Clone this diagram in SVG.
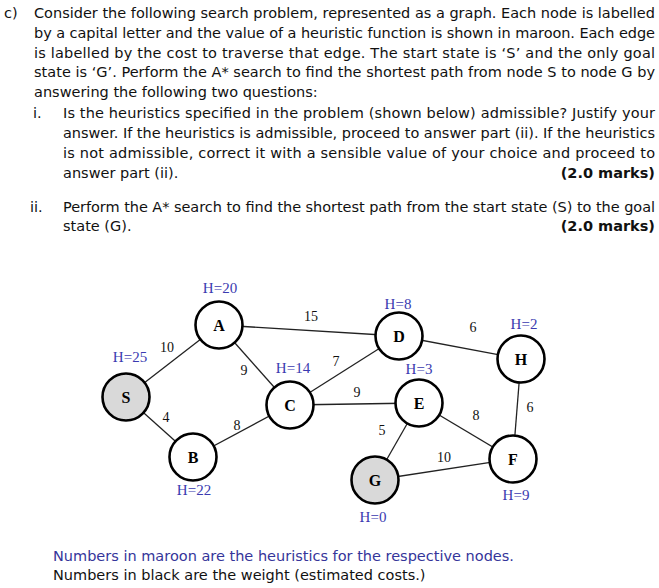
<svg xmlns="http://www.w3.org/2000/svg" width="659" height="588" viewBox="0 0 659 588">
<style>
.t{font-family:"DejaVu Sans",Verdana,sans-serif;font-size:14.5px;fill:#111}
.b{font-weight:bold}
.blue{fill:#35359a}
.e{stroke:#222;stroke-width:1.3;fill:none}
.n{stroke:#000;stroke-width:2.6;fill:#fff}
.g{fill:#d9d9d9}
.nl{font-family:"Liberation Serif","Times New Roman",serif;font-weight:bold;font-size:16px;text-anchor:middle;fill:#000}
.h{font-family:"Liberation Serif","Times New Roman",serif;font-size:15px;text-anchor:middle;fill:#3a3ab0}
.w{font-family:"Liberation Serif","Times New Roman",serif;font-size:14px;text-anchor:middle;fill:#111}
</style>
<rect width="659" height="588" fill="#fff"/>
<g id="text">
<text class="t" x="4" y="18">c)</text>
<text class="t" x="34" y="18" textLength="621" lengthAdjust="spacing">Consider the following search problem, represented as a graph. Each node is labelled</text>
<text class="t" x="34" y="38" textLength="621" lengthAdjust="spacing">by a capital letter and the value of a heuristic function is shown in maroon. Each edge</text>
<text class="t" x="34" y="57.5" textLength="621" lengthAdjust="spacing">is labelled by the cost to traverse that edge. The start state is ‘S’ and the only goal</text>
<text class="t" x="34" y="77" textLength="621" lengthAdjust="spacing">state is ‘G’. Perform the A* search to find the shortest path from node S to node G by</text>
<text class="t" x="34" y="97">answering the following two questions:</text>
<text class="t" x="33" y="118">i.</text>
<text class="t" x="63" y="118" textLength="592" lengthAdjust="spacing">Is the heuristics specified in the problem (shown below) admissible? Justify your</text>
<text class="t" x="63" y="138" textLength="592" lengthAdjust="spacing">answer. If the heuristics is admissible, proceed to answer part (ii). If the heuristics</text>
<text class="t" x="63" y="158" textLength="592" lengthAdjust="spacing">is not admissible, correct it with a sensible value of your choice and proceed to</text>
<text class="t" x="63" y="178">answer part (ii).</text>
<text class="t b" x="655" y="178" text-anchor="end">(2.0 marks)</text>
<text class="t" x="30" y="212">ii.</text>
<text class="t" x="63" y="212" textLength="592" lengthAdjust="spacing">Perform the A* search to find the shortest path from the start state (S) to the goal</text>
<text class="t" x="63" y="231">state (G).</text>
<text class="t b" x="655" y="231" text-anchor="end">(2.0 marks)</text>
<text class="t blue" x="53" y="561">Numbers in maroon are the heuristics for the respective nodes.</text>
<text class="t" x="53" y="580">Numbers in black are the weight (estimated costs.)</text>
</g>
<g id="connectors">
<line class="e" x1="126" y1="397" x2="219" y2="325"/>
<line class="e" x1="126" y1="397" x2="193" y2="457"/>
<line class="e" x1="219" y1="325" x2="290" y2="405"/>
<line class="e" x1="219" y1="325" x2="399" y2="336"/>
<line class="e" x1="193" y1="457" x2="290" y2="405"/>
<line class="e" x1="290" y1="405" x2="399" y2="336"/>
<line class="e" x1="290" y1="405" x2="419" y2="403"/>
<line class="e" x1="399" y1="336" x2="521" y2="359"/>
<line class="e" x1="419" y1="403" x2="375" y2="480"/>
<line class="e" x1="419" y1="403" x2="513" y2="459"/>
<line class="e" x1="375" y1="480" x2="513" y2="459"/>
<line class="e" x1="521" y1="359" x2="513" y2="459"/>
<text class="w" x="167" y="352">10</text>
<text class="w" x="166" y="422">4</text>
<text class="w" x="244" y="375">9</text>
<text class="w" x="311" y="321">15</text>
<text class="w" x="237" y="430">8</text>
<text class="w" x="336" y="366">7</text>
<text class="w" x="357" y="397">9</text>
<text class="w" x="473" y="332">6</text>
<text class="w" x="382" y="435">5</text>
<text class="w" x="476" y="420">8</text>
<text class="w" x="444" y="462">10</text>
<text class="w" x="530" y="412">6</text>
</g>
<g id="S"><circle class="n g" cx="126" cy="397" r="23.5"/><text class="nl" x="126" y="403">S</text><text class="h" x="130" y="362">H=25</text></g>
<g id="A"><circle class="n" cx="219" cy="325" r="23.5"/><text class="nl" x="219" y="331">A</text><text class="h" x="220" y="293">H=20</text></g>
<g id="B"><circle class="n" cx="193" cy="457" r="23.5"/><text class="nl" x="193" y="463">B</text><text class="h" x="194" y="495">H=22</text></g>
<g id="C"><circle class="n" cx="290" cy="405" r="23.5"/><text class="nl" x="290" y="411">C</text><text class="h" x="293" y="373">H=14</text></g>
<g id="D"><circle class="n" cx="399" cy="336" r="23.5"/><text class="nl" x="399" y="342">D</text><text class="h" x="398" y="309">H=8</text></g>
<g id="E"><circle class="n" cx="419" cy="403" r="23.5"/><text class="nl" x="419" y="409">E</text><text class="h" x="419" y="374">H=3</text></g>
<g id="H"><circle class="n" cx="521" cy="359" r="23.5"/><text class="nl" x="521" y="365">H</text><text class="h" x="524" y="329">H=2</text></g>
<g id="F"><circle class="n" cx="513" cy="459" r="23.5"/><text class="nl" x="513" y="465">F</text><text class="h" x="516" y="500">H=9</text></g>
<g id="G"><circle class="n g" cx="375" cy="480" r="23.5"/><text class="nl" x="375" y="486">G</text><text class="h" x="373" y="522">H=0</text></g>
</svg>
